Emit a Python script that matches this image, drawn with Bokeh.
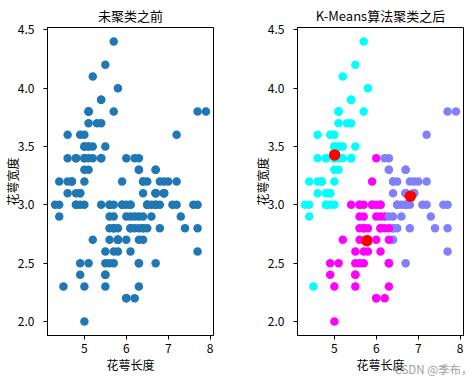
from bokeh.plotting import figure
from bokeh.layouts import row
from bokeh.models import (Range1d, FixedTicker, PrintfTickFormatter,
                          ColumnDataSource, LinearAxis)
from bokeh.embed import file_html
from bokeh.resources import INLINE

# Iris sepal length / width (cm)
sepal_length = [
    5.1, 4.9, 4.7, 4.6, 5.0, 5.4, 4.6, 5.0, 4.4, 4.9, 5.4, 4.8, 4.8, 4.3, 5.8, 5.7, 5.4, 5.1, 5.7, 5.1,
    5.4, 5.1, 4.6, 5.1, 4.8, 5.0, 5.0, 5.2, 5.2, 4.7, 4.8, 5.4, 5.2, 5.5, 4.9, 5.0, 5.5, 4.9, 4.4, 5.1,
    5.0, 4.5, 4.4, 5.0, 5.1, 4.8, 5.1, 4.6, 5.3, 5.0,
    7.0, 6.4, 6.9, 5.5, 6.5, 5.7, 6.3, 4.9, 6.6, 5.2, 5.0, 5.9, 6.0, 6.1, 5.6, 6.7, 5.6, 5.8, 6.2, 5.6,
    5.9, 6.1, 6.3, 6.1, 6.4, 6.6, 6.8, 6.7, 6.0, 5.7, 5.5, 5.5, 5.8, 6.0, 5.4, 6.0, 6.7, 6.3, 5.6, 5.5,
    5.5, 6.1, 5.8, 5.0, 5.6, 5.7, 5.7, 6.2, 5.1, 5.7,
    6.3, 5.8, 7.1, 6.3, 6.5, 7.6, 4.9, 7.3, 6.7, 7.2, 6.5, 6.4, 6.8, 5.7, 5.8, 6.4, 6.5, 7.7, 7.7, 6.0,
    6.9, 5.6, 7.7, 6.3, 6.7, 7.2, 6.2, 6.1, 6.4, 7.2, 7.4, 7.9, 6.4, 6.3, 6.1, 7.7, 6.3, 6.4, 6.0, 6.9,
    6.7, 6.9, 5.8, 6.8, 6.7, 6.7, 6.3, 6.5, 6.2, 5.9,
]
sepal_width = [
    3.5, 3.0, 3.2, 3.1, 3.6, 3.9, 3.4, 3.4, 2.9, 3.1, 3.7, 3.4, 3.0, 3.0, 4.0, 4.4, 3.9, 3.5, 3.8, 3.8,
    3.4, 3.7, 3.6, 3.3, 3.4, 3.0, 3.4, 3.5, 3.4, 3.2, 3.1, 3.4, 4.1, 4.2, 3.1, 3.2, 3.5, 3.6, 3.0, 3.4,
    3.5, 2.3, 3.2, 3.5, 3.8, 3.0, 3.8, 3.2, 3.7, 3.3,
    3.2, 3.2, 3.1, 2.3, 2.8, 2.8, 3.3, 2.4, 2.9, 2.7, 2.0, 3.0, 2.2, 2.9, 2.9, 3.1, 3.0, 2.7, 2.2, 2.5,
    3.2, 2.8, 2.5, 2.8, 2.9, 3.0, 2.8, 3.0, 2.9, 2.6, 2.4, 2.4, 2.7, 2.7, 3.0, 3.4, 3.1, 2.3, 3.0, 2.5,
    2.6, 3.0, 2.6, 2.3, 2.7, 3.0, 2.9, 2.9, 2.5, 2.8,
    3.3, 2.7, 3.0, 2.9, 3.0, 3.0, 2.5, 2.9, 2.5, 3.6, 3.2, 2.7, 3.0, 2.5, 2.8, 3.2, 3.0, 3.8, 2.6, 2.2,
    3.2, 2.8, 2.8, 2.7, 3.3, 3.2, 2.8, 3.0, 2.8, 3.0, 2.8, 3.8, 2.8, 2.8, 2.6, 3.0, 3.4, 3.1, 3.0, 3.1,
    3.1, 3.1, 2.7, 3.2, 3.3, 3.0, 2.5, 3.0, 3.4, 3.0,
]
# K-Means cluster labels (0: cyan, 1: periwinkle, 2: magenta)
cluster = (
    [0] * 50
    + [1, 1, 1, 2, 1, 2, 1, 2, 1, 2, 2, 2, 2, 2, 2, 1, 2, 2, 2, 2,
       2, 2, 2, 2, 1, 1, 1, 1, 2, 2, 2, 2, 2, 2, 2, 2, 1, 2, 2, 2,
       2, 2, 2, 2, 2, 2, 2, 2, 2, 2]
    + [1, 2, 1, 1, 1, 1, 2, 1, 1, 1, 1, 1, 1, 2, 2, 1, 1, 1, 1, 2,
       1, 2, 1, 2, 1, 1, 2, 2, 1, 1, 1, 1, 1, 2, 2, 1, 1, 1, 2, 1,
       1, 1, 2, 1, 1, 1, 2, 1, 1, 2]
)
center_x = [5.006, 6.812, 5.773]
center_y = [3.428, 3.074, 2.692]
cluster_colors = ["#00FFFF", "#8080FF", "#FF00FF"]

x_ticks = [5, 6, 7, 8]
y_ticks = [2.0, 2.5, 3.0, 3.5, 4.0, 4.5]

FONT = "Noto Sans CJK SC"
WATERMARK = "CSDN @季布，"
WM_POS = 7.41


def make_fig(title, width, mbl, mbr):
    p = figure(width=width, height=382, title=title,
               x_range=Range1d(4.12, 8.08), y_range=Range1d(1.88, 4.52),
               output_backend="svg", toolbar_location=None,
               min_border_left=mbl, min_border_right=mbr,
               min_border_top=26, min_border_bottom=47)
    p.title.align = "center"
    p.title.text_font = FONT
    p.title.text_font_size = "13px"
    p.title.text_font_style = "normal"
    p.title.text_color = "#000000"
    p.title.standoff = 6
    p.xgrid.visible = False
    p.ygrid.visible = False
    p.outline_line_color = "#000000"
    p.outline_line_alpha = 1.0
    for ax in (p.xaxis, p.yaxis):
        ax.major_tick_in = 0
        ax.major_tick_out = 4
        ax.minor_tick_line_color = None
        ax.axis_line_color = "#000000"
        ax.major_tick_line_color = "#000000"
        ax.major_label_text_font = FONT
        ax.major_label_text_font_size = "12px"
        ax.major_label_text_color = "#000000"
        ax.axis_label_text_font = FONT
        ax.axis_label_text_font_size = "12px"
        ax.axis_label_text_font_style = "normal"
        ax.axis_label_text_color = "#000000"
    p.xaxis.major_label_standoff = 4
    p.xaxis.axis_label_standoff = 0
    p.yaxis.major_label_standoff = 9
    p.yaxis.axis_label_standoff = -6
    p.xaxis.ticker = FixedTicker(ticks=x_ticks)
    p.yaxis.ticker = FixedTicker(ticks=y_ticks)
    p.xaxis.formatter = PrintfTickFormatter(format="%d")
    p.yaxis.formatter = PrintfTickFormatter(format="%.1f")
    p.xaxis.axis_label = "花萼长度"
    p.yaxis.axis_label = "花萼宽度"
    return p


p1 = make_fig("未聚类之前", 250, 47, 37)
p1.scatter(sepal_length, sepal_width, size=8.5, color="#1f77b4", line_color=None)

p2 = make_fig("K-Means算法聚类之后", 223, 47, 10)
src = ColumnDataSource(dict(x=sepal_length, y=sepal_width,
                            c=[cluster_colors[k] for k in cluster]))
p2.scatter("x", "y", source=src, size=8.5, color="c", line_color=None)
p2.scatter(center_x, center_y, size=11.5, color="#FF0000", line_color=None)

wm_axis = LinearAxis(ticker=FixedTicker(ticks=[WM_POS]),
                     major_label_overrides={WM_POS: WATERMARK},
                     axis_line_color=None, major_tick_line_color=None,
                     minor_tick_line_color=None, major_tick_in=0, major_tick_out=0,
                     major_label_standoff=-15,
                     major_label_text_font=FONT, major_label_text_font_size="11.5px",
                     major_label_text_color="#A0A0A0")
p2.add_layout(wm_axis, "below")

layout = row(p1, p2)
open("out.html", "w").write(file_html(layout, INLINE))
